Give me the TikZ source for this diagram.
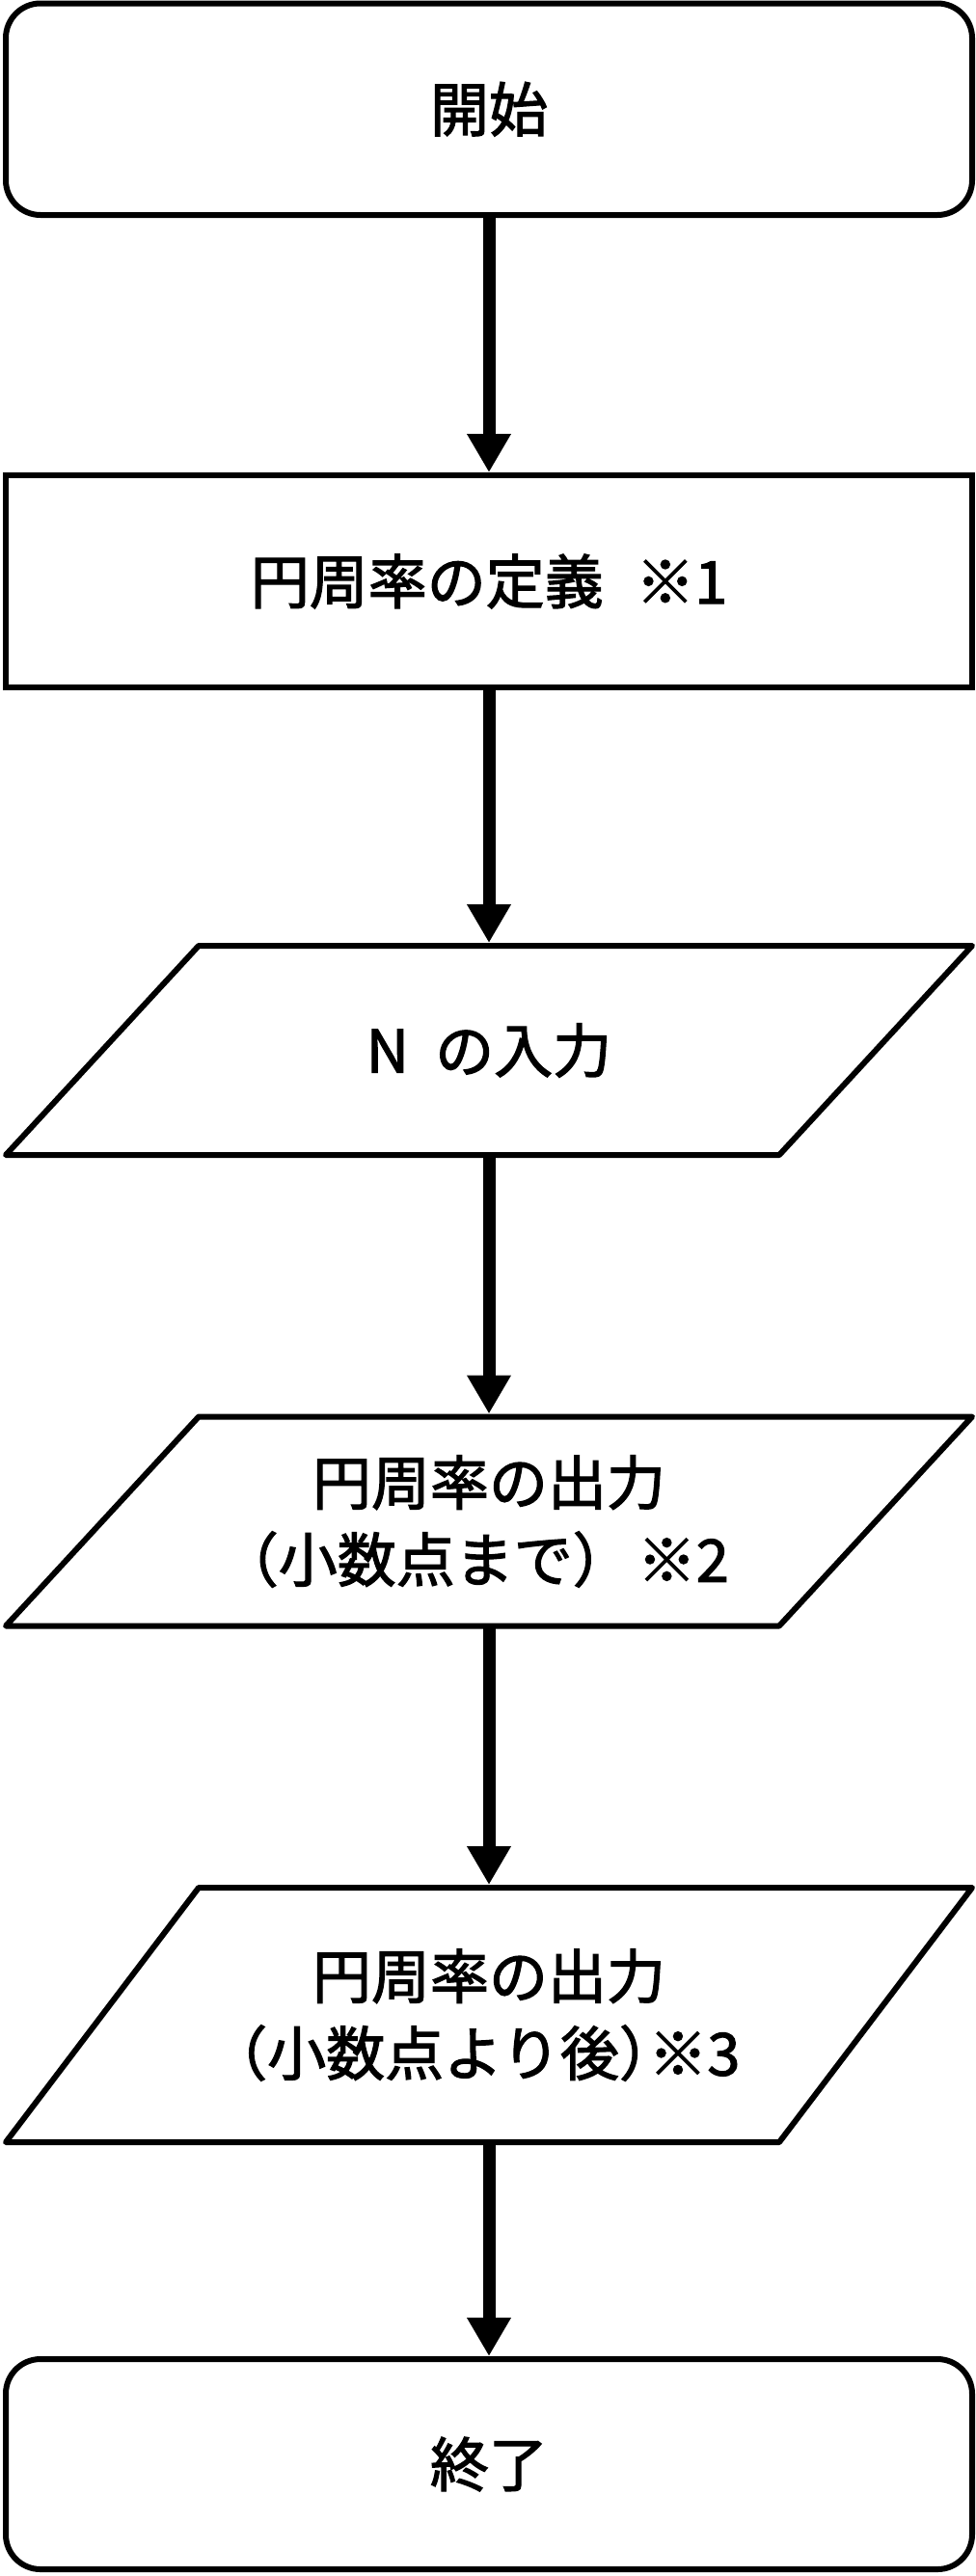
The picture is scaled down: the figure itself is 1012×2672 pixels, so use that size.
\documentclass[tikz,border=0pt]{standalone}
\usepackage{fontspec}
\newfontfamily\jpfont{Noto Sans CJK JP}[FakeBold=2]
\newfontfamily\jphalt{Noto Sans CJK JP}[FakeBold=2, RawFeature=+halt]
\usetikzlibrary{arrows.meta}
\begin{document}
\begin{tikzpicture}[x=1pt,y=-1pt,
  txt/.style={font=\jpfont\fontsize{61}{80}\selectfont, align=center, inner sep=0pt, outer sep=0pt},
  box/.style={txt, draw, line width=6pt, rectangle, minimum width=1002pt},
  term/.style={box, rounded corners=36pt},
  iobox/.style={txt, rectangle, minimum width=1002pt},
  ioline/.style={line width=6pt, line join=round},
  arr/.style={line width=13pt, shorten >=3pt, -{Triangle[length=40pt,width=43pt]}}]
\useasboundingbox (0,0) rectangle (1012,2672);

\node[term, minimum height=219.5pt] (start) at (507,113.25) {開始};
\node[box, minimum height=220pt] (proc) at (507,603) {円周率の定義\hspace{0.55em}※1};
\node[iobox, minimum height=217pt] (io1) at (507,1089.5) {N\hspace{0.45em}の入力};
\node[iobox, minimum height=217pt] (io2) at (507,1578) {円周率の出力\\{\jphalt （}小数点まで）\hspace{0.1em}※2};
\node[iobox, minimum height=264pt] (io3) at (507,2090) {円周率の出力\\{\jphalt （}小数点より後{\jphalt ）}※3};
\node[term, minimum height=218pt] (end) at (507,2556) {終了};

\foreach \n in {io1,io2,io3}{
  \draw[ioline] ([xshift=200pt]\n.north west) -- (\n.north east)
    -- ([xshift=-200pt]\n.south east) -- (\n.south west) -- cycle;
}

\draw[arr] (start.south) -- (proc.north);
\draw[arr] (proc.south) -- (io1.north);
\draw[arr] (io1.south) -- (io2.north);
\draw[arr] (io2.south) -- (io3.north);
\draw[arr] (io3.south) -- (end.north);
\end{tikzpicture}
\end{document}
